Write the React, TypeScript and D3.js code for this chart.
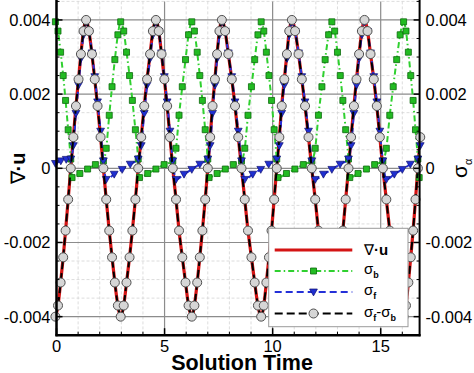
import React from 'react';
import * as d3 from 'd3';

// divergence of u (same values as sigma_f - sigma_b)
const divuT = [
  -0.05, 0.07, 0.19, 0.31, 0.42, 0.54, 0.66, 0.78, 0.9, 1.02, 1.13, 1.25, 1.37,
  1.5, 1.64, 1.77, 1.9, 2.04, 2.17, 2.3, 2.44, 2.57, 2.7, 2.84, 2.97,
  3.11, 3.24, 3.38, 3.51, 3.65, 3.78, 3.92, 4.06, 4.19, 4.33, 4.46, 4.6,
  4.73, 4.86, 4.99, 5.12, 5.25, 5.38, 5.53, 5.67, 5.82, 5.97, 6.11, 6.26,
  6.38, 6.51, 6.63, 6.75, 6.88, 7.0, 7.11, 7.22, 7.33, 7.43, 7.54, 7.65,
  7.8, 7.95, 8.11, 8.26, 8.41, 8.56, 8.71, 8.86, 9.02, 9.17, 9.32, 9.47,
  9.59, 9.71, 9.83, 9.95, 10.07, 10.19, 10.31, 10.42, 10.54, 10.66, 10.77, 10.89,
  11.04, 11.2, 11.35, 11.5, 11.66, 11.81, 11.97, 12.12, 12.28, 12.43, 12.59, 12.74,
  12.87, 13.0, 13.13, 13.25, 13.38, 13.51, 13.63, 13.76, 13.88, 14.0, 14.13, 14.25,
  14.39, 14.53, 14.68, 14.82, 14.96, 15.1, 15.26, 15.42, 15.58, 15.74, 15.9, 16.06,
  16.17, 16.28, 16.39, 16.5, 16.61, 16.72, 16.83, 16.94,
];
const divuV = [
  -0.004, -0.0037, -0.00308, -0.0024, -0.00168, -0.00084, 0, 0.00084, 0.00168, 0.0024, 0.00308, 0.0037, 0.004,
  0.0037, 0.00308, 0.0024, 0.00168, 0.00084, 0, -0.00084, -0.00168, -0.0024, -0.00308, -0.0037, -0.004,
  -0.0037, -0.00308, -0.0024, -0.00168, -0.00084, 0, 0.00084, 0.00168, 0.0024, 0.00308, 0.0037, 0.004,
  0.0037, 0.00308, 0.0024, 0.00168, 0.00084, 0, -0.00084, -0.00168, -0.0024, -0.00308, -0.0037, -0.004,
  -0.0037, -0.00308, -0.0024, -0.00168, -0.00084, 0, 0.00084, 0.00168, 0.0024, 0.00308, 0.0037, 0.004,
  0.0037, 0.00308, 0.0024, 0.00168, 0.00084, 0, -0.00084, -0.00168, -0.0024, -0.00308, -0.0037, -0.004,
  -0.0037, -0.00308, -0.0024, -0.00168, -0.00084, 0, 0.00084, 0.00168, 0.0024, 0.00308, 0.0037, 0.004,
  0.0037, 0.00308, 0.0024, 0.00168, 0.00084, 0, -0.00084, -0.00168, -0.0024, -0.00308, -0.0037, -0.004,
  -0.0037, -0.00308, -0.0024, -0.00168, -0.00084, 0, 0.00084, 0.00168, 0.0024, 0.00308, 0.0037, 0.004,
  0.0037, 0.00308, 0.0024, 0.00168, 0.00084, 0, -0.00084, -0.00168, -0.0024, -0.00308, -0.0037, -0.004,
  -0.0037, -0.00308, -0.0024, -0.00168, -0.00084, 0, 0.00084, 0.00168,
];

// sigma_b
const sigBT = [
  -0.17, -0.05, 0.07, 0.19, 0.31, 0.42, 0.54, 0.66,
  0.72, 1.08, 1.44, 1.8,
  2.17, 2.3, 2.44, 2.57, 2.7, 2.84, 2.97, 3.11, 3.24, 3.38, 3.51, 3.65, 3.78,
  3.84, 4.22, 4.6, 4.98,
  5.38, 5.53, 5.67, 5.82, 5.97, 6.11, 6.26, 6.38, 6.51, 6.63, 6.75, 6.88, 7.0,
  7.06, 7.43, 7.81, 8.18,
  8.56, 8.71, 8.86, 9.02, 9.17, 9.32, 9.47, 9.59, 9.71, 9.83, 9.95, 10.07, 10.19,
  10.25, 10.64, 11.03, 11.42,
  11.81, 11.97, 12.12, 12.28, 12.43, 12.59, 12.74, 12.87, 13.0, 13.13, 13.25, 13.38, 13.51,
  13.57, 13.95, 14.34, 14.72,
  15.1, 15.26, 15.42, 15.58, 15.74, 15.9, 16.06, 16.17, 16.28, 16.39, 16.5, 16.61, 16.72,
  16.78, 17.1,
];
const sigBV = [
  0.0036, 0.00395, 0.0037, 0.00313, 0.0025, 0.00183, 0.00104, 0.00025,
  -0.00025, -0.00014, -0.00002, 0.0001,
  0.0002, 0.00054, 0.00143, 0.0022, 0.00293, 0.0036, 0.00395, 0.0037, 0.00313, 0.0025, 0.00183, 0.00104, 0.00025,
  -0.00025, -0.00014, -0.00002, 0.0001,
  0.0002, 0.00054, 0.00143, 0.0022, 0.00293, 0.0036, 0.00395, 0.0037, 0.00313, 0.0025, 0.00183, 0.00104, 0.00025,
  -0.00025, -0.00014, -0.00002, 0.0001,
  0.0002, 0.00054, 0.00143, 0.0022, 0.00293, 0.0036, 0.00395, 0.0037, 0.00313, 0.0025, 0.00183, 0.00104, 0.00025,
  -0.00025, -0.00014, -0.00002, 0.0001,
  0.0002, 0.00054, 0.00143, 0.0022, 0.00293, 0.0036, 0.00395, 0.0037, 0.00313, 0.0025, 0.00183, 0.00104, 0.00025,
  -0.00025, -0.00014, -0.00002, 0.0001,
  0.0002, 0.00054, 0.00143, 0.0022, 0.00293, 0.0036, 0.00395, 0.0037, 0.00313, 0.0025, 0.00183, 0.00104, 0.00025,
  -0.00025, -0.00015,
];

// sigma_f
const sigFT = [
  -0.05, 0.2, 0.45,
  0.66, 0.78, 0.9, 1.02, 1.13, 1.25, 1.37, 1.5, 1.64, 1.77, 1.9, 2.04, 2.17,
  2.3, 2.67, 3.04, 3.41,
  3.78, 3.92, 4.06, 4.19, 4.33, 4.46, 4.6, 4.73, 4.86, 4.99, 5.12, 5.25, 5.38,
  5.53, 5.9, 6.26, 6.63,
  7.0, 7.11, 7.22, 7.33, 7.43, 7.54, 7.65, 7.8, 7.95, 8.11, 8.26, 8.41, 8.56,
  8.71, 9.08, 9.45, 9.82,
  10.19, 10.31, 10.42, 10.54, 10.66, 10.77, 10.89, 11.04, 11.2, 11.35, 11.5, 11.66, 11.81,
  11.97, 12.35, 12.74, 13.12,
  13.51, 13.63, 13.76, 13.88, 14.0, 14.13, 14.25, 14.39, 14.53, 14.68, 14.82, 14.96, 15.1,
  15.26, 15.63, 16.0, 16.37,
  16.72, 16.83, 16.94,
];
const sigFV = [
  0.00013, 0.0002, 0.00024,
  0.00025, 0.00061, 0.00148, 0.00224, 0.00296, 0.0036, 0.00395, 0.00369, 0.00311, 0.00247, 0.00179, 0.001, 0.0002,
  -0.0003, -0.00016, -0.00003, 0.00011,
  0.00025, 0.00061, 0.00148, 0.00224, 0.00296, 0.0036, 0.00395, 0.00369, 0.00311, 0.00247, 0.00179, 0.001, 0.0002,
  -0.0003, -0.00016, -0.00003, 0.00011,
  0.00025, 0.00061, 0.00148, 0.00224, 0.00296, 0.0036, 0.00395, 0.00369, 0.00311, 0.00247, 0.00179, 0.001, 0.0002,
  -0.0003, -0.00016, -0.00003, 0.00011,
  0.00025, 0.00061, 0.00148, 0.00224, 0.00296, 0.0036, 0.00395, 0.00369, 0.00311, 0.00247, 0.00179, 0.001, 0.0002,
  -0.0003, -0.00016, -0.00003, 0.00011,
  0.00025, 0.00061, 0.00148, 0.00224, 0.00296, 0.0036, 0.00395, 0.00369, 0.00311, 0.00247, 0.00179, 0.001, 0.0002,
  -0.0003, -0.00016, -0.00003, 0.00011,
  0.00025, 0.00061, 0.00148,
];

const xTicks = [0, 5, 10, 15];
const yTicks = [-0.004, -0.002, 0, 0.002, 0.004];
const yTickLabels = ['-0.004', '-0.002', '0', '0.002', '0.004'];

const W = 474;
const H = 373;
const FONT = '"Liberation Sans", Arial, Helvetica, sans-serif';

const RED = '#d41414';
const GREEN = '#2fd02f';
const BLUE = '#2430d8';

const x = d3.scaleLinear().domain([0, 16.8]).range([56.5, 419.6]);
const y = d3.scaleLinear().domain([-0.0045, 0.0045]).range([335.2, 1.4]);

const zip = (t: number[], v: number[]) => t.map((d, i) => [d, v[i]] as [number, number]);

const line = d3.line<[number, number]>()
  .x(d => x(d[0]))
  .y(d => y(d[1]))
  .curve(d3.curveMonotoneX);

const divu = zip(divuT, divuV);
const sigB = zip(sigBT, sigBV);
const sigF = zip(sigFT, sigFV);
const visible = (d: [number, number]) => d[0] >= -0.1 && d[0] <= 16.86;

const sq = d3.symbol().type(d3.symbolSquare).size(36)();
const circ = d3.symbol().type(d3.symbolCircle).size(64)();
// downward triangle
const tri = 'M-3.9,-3 L3.9,-3 L0,3.9 Z';

const Square = ({ cx, cy }: { cx: number; cy: number }) => (
  <path d={sq as string} transform={`translate(${cx},${cy})`} fill="#22bb22" stroke="#0d6a0d" strokeWidth={0.8} />
);
const Tri = ({ cx, cy }: { cx: number; cy: number }) => (
  <path d={tri} transform={`translate(${cx},${cy})`} fill="#1f2fd0" stroke="#101070" strokeWidth={0.7} />
);
const Circ = ({ cx, cy }: { cx: number; cy: number }) => (
  <path d={circ as string} transform={`translate(${cx},${cy})`} fill="#d6d6d6" stroke="#505050" strokeWidth={1} />
);

export default function App() {
  const [x0, x1] = x.range();
  const [y0, y1] = y.range();
  const minorX = d3.range(0, 17, 1).filter(v => v % 5 !== 0);
  const minorY = d3.range(-0.0045, 0.0046, 0.0005).filter(v => Math.abs(Math.round(v * 10000) % 20) !== 0);

  const legRows = [250, 271, 292, 313.5];
  const lx0 = 274.7, lx1 = 352.3, lxm = 313.5, ltx = 364;

  return (
    <div style={{ position: 'absolute', left: 0, top: 0 }}>
      <svg width={W} height={H} viewBox={`0 0 ${W} ${H}`} style={{ display: 'block', background: '#fff' }} fontFamily={FONT}>
        <defs>
          <clipPath id="plot-area">
            <rect x={x0} y={y1} width={x1 - x0} height={y0 - y1} />
          </clipPath>
        </defs>

        {/* minor grid */}
        <g stroke="#d4d4d4" strokeWidth={0.8} strokeDasharray="3,2">
          {minorX.map(v => <line key={'mx' + v} x1={x(v)} x2={x(v)} y1={y1} y2={y0} />)}
          {minorY.map(v => <line key={'my' + v} x1={x0} x2={x1} y1={y(v)} y2={y(v)} />)}
        </g>
        {/* major grid */}
        <g stroke="#8c8c8c" strokeWidth={1.2}>
          {xTicks.map(v => <line key={'gx' + v} x1={x(v)} x2={x(v)} y1={y1} y2={y0} />)}
          {yTicks.map(v => <line key={'gy' + v} x1={x0} x2={x1} y1={y(v)} y2={y(v)} />)}
        </g>

        {/* series */}
        <g clipPath="url(#plot-area)" fill="none">
          <path d={line(divu) as string} stroke={RED} strokeWidth={3.2} />
          <path d={line(sigB) as string} stroke={GREEN} strokeWidth={2} strokeDasharray="6,3,1.5,3" />
          <path d={line(sigF) as string} stroke={BLUE} strokeWidth={2} strokeDasharray="7,4" />
        </g>
        <g>
          {sigB.filter(visible).map((d, i) => <Square key={'b' + i} cx={x(d[0])} cy={y(d[1])} />)}
          {sigF.filter(visible).map((d, i) => <Tri key={'f' + i} cx={x(d[0])} cy={y(d[1])} />)}
        </g>
        <g clipPath="url(#plot-area)">
          <path d={line(divu) as string} fill="none" stroke="#000" strokeWidth={2} strokeDasharray="8,4" />
        </g>
        <g>
          {divu.filter(visible).map((d, i) => <Circ key={'c' + i} cx={x(d[0])} cy={y(d[1])} />)}
        </g>

        {/* axes */}
        <g stroke="#000">
          <line x1={x0} x2={x0} y1={0} y2={y0 + 1} strokeWidth={2.5} />
          <line x1={x1} x2={x1} y1={0} y2={y0 + 1} strokeWidth={2} />
          <line x1={x0 - 1} x2={x1 + 1} y1={y0} y2={y0} strokeWidth={2.5} />
          {xTicks.map(v => <line key={'tx' + v} x1={x(v)} x2={x(v)} y1={y0} y2={y0 - 7} strokeWidth={1.5} />)}
          {minorX.map(v => <line key={'tmx' + v} x1={x(v)} x2={x(v)} y1={y0} y2={y0 - 3.5} strokeWidth={1} />)}
          {yTicks.map(v => (
            <g key={'ty' + v}>
              <line x1={x0} x2={x0 + 6} y1={y(v)} y2={y(v)} strokeWidth={1.5} />
              <line x1={x1} x2={x1 - 6} y1={y(v)} y2={y(v)} strokeWidth={1.5} />
            </g>
          ))}
          {minorY.map(v => (
            <g key={'tmy' + v}>
              <line x1={x0} x2={x0 + 3} y1={y(v)} y2={y(v)} strokeWidth={1} />
              <line x1={x1} x2={x1 - 3} y1={y(v)} y2={y(v)} strokeWidth={1} />
            </g>
          ))}
        </g>

        {/* tick labels */}
        <g fontSize={16.5} fill="#000">
          {xTicks.map(v => (
            <text key={'lx' + v} x={x(v)} y={351.5} textAnchor="middle">{v}</text>
          ))}
          {yTicks.map((v, i) => (
            <text key={'ly' + v} x={50.5} y={y(v) + 6} textAnchor="end">{yTickLabels[i]}</text>
          ))}
          {yTicks.map((v, i) => (
            <text key={'ry' + v} x={425.5} y={y(v) + 6} textAnchor="start">{yTickLabels[i]}</text>
          ))}
        </g>

        {/* axis titles */}
        <text x={242} y={369.5} textAnchor="middle" fontSize={21.5} fontWeight="bold">Solution Time</text>
        <text transform="translate(25,168.5) rotate(-90)" textAnchor="middle" fontSize={20}>
          ∇<tspan fontWeight="bold">·u</tspan>
        </text>
        <text transform="translate(467,178) rotate(-90)" fontSize={21}>
          σ<tspan fontSize={11} dy={5}>α</tspan>
        </text>

        {/* legend */}
        <rect x={268.7} y={228.3} width={139.3} height={98.4} fill="#fff" stroke="#9a9a9a" strokeWidth={1} />
        <line x1={lx0} x2={lx1} y1={legRows[0]} y2={legRows[0]} stroke={RED} strokeWidth={3} />
        <line x1={lx0} x2={lx1} y1={legRows[1]} y2={legRows[1]} stroke={GREEN} strokeWidth={2} strokeDasharray="6,3,1.5,3" />
        <Square cx={lxm} cy={legRows[1]} />
        <line x1={lx0} x2={lx1} y1={legRows[2]} y2={legRows[2]} stroke={BLUE} strokeWidth={2} strokeDasharray="7,4" />
        <Tri cx={lxm} cy={legRows[2]} />
        <line x1={lx0} x2={lx1} y1={legRows[3]} y2={legRows[3]} stroke="#000" strokeWidth={2} strokeDasharray="8,4" />
        <Circ cx={lxm} cy={legRows[3]} />
        <g fontSize={15} fill="#000">
          <text x={ltx} y={legRows[0] + 5}>∇<tspan fontWeight="bold">·u</tspan></text>
          <text x={ltx} y={legRows[1] + 3}>σ<tspan fontSize={9} fontWeight="bold" dy={4}>b</tspan></text>
          <text x={ltx} y={legRows[2] + 3}>σ<tspan fontSize={9} fontWeight="bold" dy={4}>f</tspan></text>
          <text x={ltx} y={legRows[3] + 3}>σ<tspan fontSize={9} fontWeight="bold" dy={4}>f</tspan><tspan dy={-4}>-σ</tspan><tspan fontSize={9} fontWeight="bold" dy={4}>b</tspan></text>
        </g>
      </svg>
    </div>
  );
}
